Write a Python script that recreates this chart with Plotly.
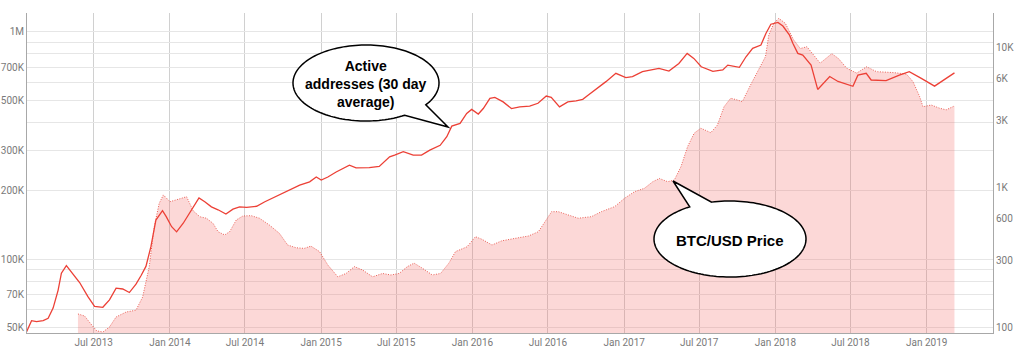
import numpy as np
import plotly.graph_objects as go

# ---------------- data ----------------
active_dates = [
    "2013-01-20", "2013-02-01", "2013-02-13", "2013-03-01", "2013-03-13", "2013-03-25",
    "2013-04-06", "2013-04-14", "2013-04-26", "2013-05-08", "2013-05-28", "2013-06-17",
    "2013-07-03", "2013-07-23", "2013-08-08", "2013-08-24", "2013-09-09", "2013-09-25",
    "2013-10-11", "2013-10-23", "2013-11-04", "2013-11-16", "2013-11-28", "2013-12-14",
    "2013-12-23", "2014-01-05", "2014-01-17", "2014-02-02", "2014-02-22", "2014-03-12",
    "2014-03-26", "2014-04-11", "2014-04-27", "2014-05-16", "2014-06-02", "2014-06-18",
    "2014-07-05", "2014-07-29", "2014-08-18", "2014-09-11", "2014-10-09", "2014-11-10",
    "2014-12-04", "2014-12-20", "2015-01-01", "2015-01-17", "2015-02-06", "2015-03-10",
    "2015-03-26", "2015-04-27", "2015-05-21", "2015-06-06", "2015-06-15", "2015-06-27",
    "2015-07-18", "2015-08-11", "2015-08-31", "2015-09-20", "2015-10-15", "2015-10-31",
    "2015-11-12", "2015-12-02", "2015-12-18", "2015-12-30", "2016-01-15", "2016-01-27",
    "2016-02-12", "2016-02-24", "2016-03-15", "2016-04-04", "2016-04-24", "2016-05-18",
    "2016-06-07", "2016-06-27", "2016-07-09", "2016-07-29", "2016-08-18", "2016-09-07",
    "2016-09-23", "2016-10-05", "2016-10-25", "2016-11-18", "2016-12-12", "2017-01-05",
    "2017-01-21", "2017-02-14", "2017-03-26", "2017-04-19", "2017-05-13", "2017-06-02",
    "2017-06-18", "2017-07-06", "2017-08-03", "2017-08-27", "2017-09-08", "2017-10-06",
    "2017-10-22", "2017-11-07", "2017-11-27", "2017-12-09", "2017-12-21", "2018-01-07",
    "2018-01-19", "2018-02-04", "2018-02-12", "2018-02-24", "2018-03-08", "2018-03-28",
    "2018-04-13", "2018-05-12", "2018-06-01", "2018-07-07", "2018-07-19", "2018-08-08",
    "2018-08-20", "2018-09-25", "2018-10-27", "2018-11-20", "2018-12-19", "2019-01-20",
    "2019-02-17", "2019-03-09",
]
active_values = [
    48000, 53700, 53200, 53700, 55000, 61000,
    73000, 86800, 93700, 88000, 79000, 68500,
    62000, 61500, 66300, 74600, 74000, 71400,
    77700, 84600, 93000, 113600, 148800, 163500,
    154000, 139000, 132000, 144000, 165000, 186000,
    179000, 170000, 165000, 158000, 166000, 170000,
    169000, 171000, 179000, 188000, 198000, 212000,
    219000, 230000, 223000, 230000, 242000, 259000,
    252000, 253000, 256000, 273000, 282000, 287000,
    297000, 287000, 287000, 302000, 317000, 346000,
    385000, 396000, 438000, 456000, 435000, 460000,
    510000, 515000, 492000, 460000, 468000, 471000,
    485000, 522000, 515000, 468000, 492000, 497000,
    505000, 525000, 559000, 604000, 657000, 629000,
    635000, 668000, 691000, 672000, 726000, 804000,
    764000, 702000, 670000, 680000, 714000, 698000,
    777000, 846000, 875000, 984000, 1080000, 1100000,
    1060000, 967000, 890000, 804000, 790000, 715000,
    558000, 636000, 605000, 576000, 645000, 657000,
    614000, 610000, 645000, 668000, 624000, 577000,
    624000, 660000,
]

price_dates = [
    "2013-05-24", "2013-06-09", "2013-06-21", "2013-07-08", "2013-07-23", "2013-08-08",
    "2013-08-24", "2013-09-17", "2013-10-11", "2013-10-27", "2013-11-12", "2013-11-24",
    "2013-12-06", "2013-12-16", "2014-01-01", "2014-01-17", "2014-01-29", "2014-02-10",
    "2014-02-26", "2014-03-14", "2014-03-30", "2014-04-15", "2014-04-27", "2014-05-13",
    "2014-05-25", "2014-06-10", "2014-06-26", "2014-07-16", "2014-08-05", "2014-08-29",
    "2014-09-22", "2014-10-12", "2014-11-01", "2014-11-21", "2014-12-07", "2014-12-28",
    "2015-01-17", "2015-02-10", "2015-03-02", "2015-03-22", "2015-04-11", "2015-05-05",
    "2015-05-29", "2015-06-18", "2015-07-08", "2015-07-28", "2015-08-13", "2015-09-02",
    "2015-09-26", "2015-10-16", "2015-11-05", "2015-11-21", "2015-12-19", "2016-01-08",
    "2016-01-24", "2016-02-17", "2016-03-12", "2016-04-13", "2016-05-15", "2016-06-08",
    "2016-06-24", "2016-07-10", "2016-07-26", "2016-08-19", "2016-09-12", "2016-10-14",
    "2016-11-07", "2016-12-09", "2017-01-02", "2017-01-26", "2017-02-19", "2017-03-11",
    "2017-03-27", "2017-04-16", "2017-05-02", "2017-05-18", "2017-06-03", "2017-06-19",
    "2017-07-05", "2017-07-29", "2017-08-14", "2017-08-30", "2017-09-15", "2017-10-01",
    "2017-10-13", "2017-11-02", "2017-11-26", "2017-12-08", "2017-12-16", "2017-12-28",
    "2018-01-09", "2018-01-25", "2018-02-14", "2018-03-02", "2018-03-18", "2018-04-03",
    "2018-04-19", "2018-05-17", "2018-06-02", "2018-06-22", "2018-07-16", "2018-08-09",
    "2018-09-02", "2018-10-12", "2018-11-13", "2018-11-29", "2018-12-15", "2018-12-23",
    "2019-01-12", "2019-02-01", "2019-02-17", "2019-03-09",
]
price_values = [
    124, 120, 108, 94, 92, 100,
    118, 128, 132, 164, 271, 523,
    770, 884, 791, 813, 837, 859,
    680, 617, 602, 553, 482, 457,
    482, 585, 625, 628, 602, 538,
    469, 387, 370, 366, 380, 347,
    278, 229, 242, 271, 256, 229,
    242, 236, 242, 271, 287, 264,
    236, 242, 287, 347, 376, 444,
    425, 387, 415, 432, 449, 482,
    569, 671, 671, 635, 602, 618,
    671, 729, 837, 933, 987, 1100,
    1160, 1100, 1130, 1410, 1960, 2450,
    2660, 2470, 2800, 3790, 4360, 4240,
    4120, 5430, 7350, 8670, 12400, 15000,
    16300, 15000, 11400, 9900, 10200, 8900,
    7780, 9100, 8400, 7160, 6600, 7330,
    6760, 6660, 6500, 5730, 4480, 3790,
    3900, 3700, 3600, 3840,
]

left_tickvals = [50000, 60000, 70000, 80000, 90000, 100000, 200000, 300000, 400000,
                 500000, 600000, 700000, 800000, 900000, 1000000]
left_ticktext = ["50K", "", "70K", "", "", "100K", "200K", "300K", "",
                 "500K", "", "700K", "", "", "1M"]
right_tickvals = [100, 300, 600, 1000, 3000, 6000, 10000]
right_ticktext = ["100", "300", "600", "1K", "3K", "6K", "10K"]

# ---------------- layout geometry ----------------
W, H = 1024, 355
ML, MR, MT, MB = 27, 31, 13, 22
PW, PH = W - ML - MR, H - MT - MB


def px(x):
    return (x - ML) / PW


def py(y):
    return (H - MB - y) / PH


def bubble(cx, cy, a, b, t_start, t_end, tip):
    if t_end <= t_start:
        t_end += 360
    ts = np.radians(np.linspace(t_start, t_end, 140))
    pts = list(zip(cx + a * np.cos(ts), cy + b * np.sin(ts))) + [tip]
    return "M " + " L ".join(f"{px(x):.5f},{py(y):.5f}" for x, y in pts) + " Z"


RED = "rgb(236,64,54)"
FILL = "rgba(245,100,95,0.25)"
BASE = 10  # below the visible price range, so the fill reaches the bottom

fig = go.Figure()
fig.add_trace(go.Scatter(
    x=[price_dates[0], price_dates[-1]], y=[BASE, BASE], yaxis="y",
    mode="lines", line=dict(width=0, color=FILL), hoverinfo="skip", showlegend=False))
fig.add_trace(go.Scatter(
    x=price_dates, y=price_values, yaxis="y", mode="lines", fill="tonexty",
    fillcolor=FILL, line=dict(color="rgba(232,80,70,0.9)", width=1, dash="1px,1.5px"),
    name="BTC/USD Price", showlegend=False))
fig.add_trace(go.Scatter(
    x=active_dates, y=active_values, yaxis="y2", mode="lines",
    line=dict(color=RED, width=1.3), name="Active addresses", showlegend=False))

tickfont = dict(family="Roboto", size=10, color="#7a7a7a")

fig.update_layout(
    width=W, height=H,
    margin=dict(l=ML, r=MR, t=MT, b=MB, pad=0, autoexpand=False),
    paper_bgcolor="white", plot_bgcolor="white",
    showlegend=False,
    xaxis=dict(
        type="date", range=["2013-01-21", "2019-06-10"], automargin=False,
        tick0="2013-01-01", dtick="M6", tickformat="%b %Y",
        showgrid=True, gridcolor="#d0d0d0", gridwidth=1,
        showline=True, linecolor="#a8a8a8", linewidth=1,
        ticks="", tickfont=tickfont, zeroline=False),
    yaxis=dict(
        type="log", side="right", automargin=False,
        range=[np.log10(90.6), np.log10(17800)],
        tickvals=right_tickvals, ticktext=right_ticktext,
        showgrid=False, showline=True, linecolor="#a8a8a8", linewidth=1,
        ticks="", tickfont=tickfont, zeroline=False),
    yaxis2=dict(
        type="log", side="left", overlaying="y", automargin=False,
        range=[np.log10(47400), np.log10(1210000)],
        tickvals=left_tickvals, ticktext=left_ticktext,
        showgrid=True, gridcolor="#e6e6e6", gridwidth=1,
        showline=True, linecolor="#a8a8a8", linewidth=1,
        ticks="", tickfont=tickfont, zeroline=False),
)

shape_style = dict(type="path", xref="paper", yref="paper",
                   fillcolor="white", line=dict(color="black", width=1.5), layer="above")
fig.add_shape(path=bubble(366, 83, 73, 38, 58, 35, (448, 127)), **shape_style)
fig.add_shape(path=bubble(730, 239, 76, 38, 256, 238, (673, 181)), **shape_style)

ann_font = dict(family="Liberation Sans, Arial, sans-serif", size=14, color="black")
fig.add_annotation(x=px(366), y=py(84), xref="paper", yref="paper",
                   xanchor="center", yanchor="middle",
                   text="<b>Active<br>addresses (30 day<br>average)</b>",
                   showarrow=False, font=ann_font, align="center")
fig.add_annotation(x=px(730), y=py(240), xref="paper", yref="paper",
                   xanchor="center", yanchor="middle",
                   text="<b>BTC/USD Price</b>", showarrow=False,
                   font=dict(family="Liberation Sans, Arial, sans-serif", size=15, color="black"),
                   align="center")

fig.write_html("out.html", config={"displayModeBar": False},
               post_script="document.body.style.margin='0';document.body.style.padding='0';")
